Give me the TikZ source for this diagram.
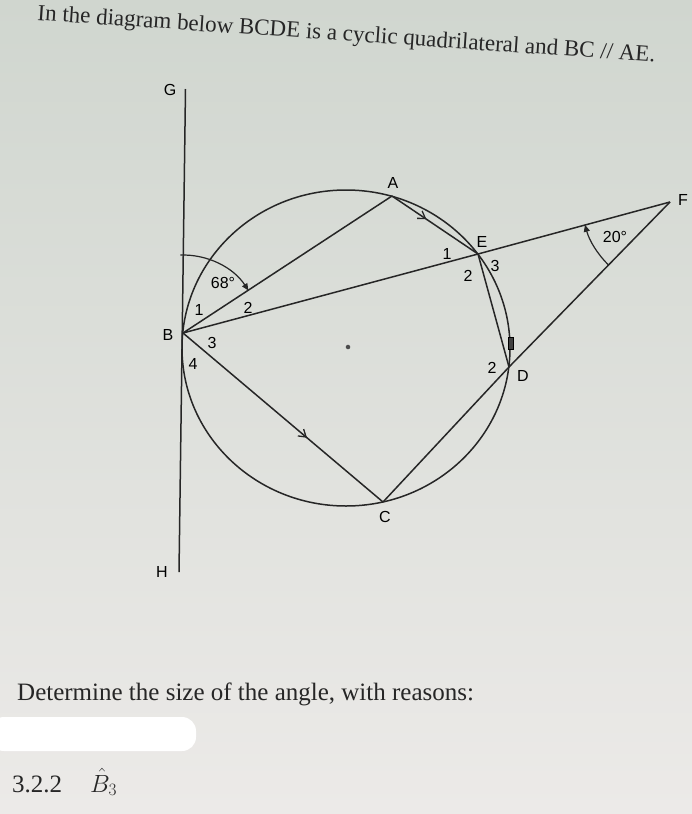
\documentclass[tikz,border=0pt]{standalone}
\usepackage{fontspec}
\setmainfont{Liberation Serif}
\newfontfamily\labelfont{Liberation Sans}
\usetikzlibrary{arrows.meta,decorations.markings}

\definecolor{papertop}{RGB}{208,214,207}
\definecolor{papermid}{RGB}{226,228,224}
\definecolor{paperbot}{RGB}{236,234,232}

\begin{document}
\begin{tikzpicture}[x=1pt, y=-1pt,
  geo/.style={line width=1.5pt, black!85},
  lbl/.style={font=\labelfont\fontsize{16}{16}\selectfont, inner sep=0pt},
  txt/.style={font=\fontsize{25}{28}\selectfont, inner sep=0pt, anchor=base west, black!85},
  midarrow/.style={postaction={decorate, decoration={markings,
      mark=at position #1 with {\arrow{Straight Barb[length=7pt, width=9pt, line width=1.3pt]}}}}}]

% Paper
\shade[top color=papertop, middle color=papermid, bottom color=paperbot] (0,0) rectangle (692,814);
\useasboundingbox (0,0) rectangle (692,814);

% Points of the figure
\coordinate (O) at (346,348);
\coordinate (B) at (183,333);
\coordinate (A) at (392,196);
\coordinate (E) at (478,254);
\coordinate (D) at (509,367);
\coordinate (C) at (383,502);
\coordinate (F) at (670,202);
\coordinate (G) at (185.5,89);
\coordinate (H) at (179,572);

% Circle and centre
\draw[geo] (O) ellipse [x radius=164pt, y radius=158pt];
\node[circle, fill=black!70, inner sep=1.6pt] (centre) at (348,347) {};

% Tangent GH and the chords
\draw[geo] (G) -- (H);
\draw[geo] (B) -- (A);
\draw[geo, midarrow=0.4] (A) -- (E);
\draw[geo] (B) -- (E) -- (F);
\draw[geo, midarrow=0.62] (B) -- (C);
\draw[geo] (C) -- (D) -- (F);
\draw[geo] (E) -- (D);

% Mark on arc ED
\draw[line width=0.8pt, fill=black!75] (508.5,337) rectangle (513,349);

% Angle arcs
\draw[line width=1.2pt, black!85, -{Triangle[length=7pt, width=6pt]}] (B) ++(92:78pt) arc[start angle=92, end angle=33, radius=78pt];
\draw[line width=1.2pt, black!85, -{Triangle[length=7pt, width=6pt]}] (F) ++(226:88pt) arc[start angle=226, end angle=195, radius=88pt];

% Point labels
\node[lbl] (lG) at (170,90) {G};
\node[lbl] (lH) at (162,572) {H};
\node[lbl] (lB) at (168,335) {B};
\node[lbl] (lA) at (393,183) {A};
\node[lbl] (lE) at (482,242) {E};
\node[lbl] (lF) at (683,200) {F};
\node[lbl] (lD) at (523,376) {D};
\node[lbl] (lC) at (385,517) {C};

% Angle labels
\node[lbl] (a68) at (223,283) {68°};
\node[lbl] (b1) at (199,310) {1};
\node[lbl] (b2) at (248,308) {2};
\node[lbl] (b3) at (212,343) {3};
\node[lbl] (b4) at (193,364) {4};
\node[lbl] (e1) at (447,254) {1};
\node[lbl] (e2) at (468,276) {2};
\node[lbl] (e3) at (495,266) {3};
\node[lbl] (d2) at (492,368) {2};
\node[lbl] (a20) at (615,237) {20°};

% Question text
\node[txt, font=\fontsize{23}{26}\selectfont, rotate=-3.9] (heading) at (37,20) {In the diagram below BCDE is a cyclic quadrilateral and BC // AE.};
\node[txt] (task) at (17,700) {Determine the size of the angle, with reasons:};
\fill[white, rounded corners=14pt] (-10,717) rectangle (196,751);
\node[txt] (q322) at (12,792) {3.2.2\hspace{28pt}$\hat{B}_3$};
\end{tikzpicture}
\end{document}
